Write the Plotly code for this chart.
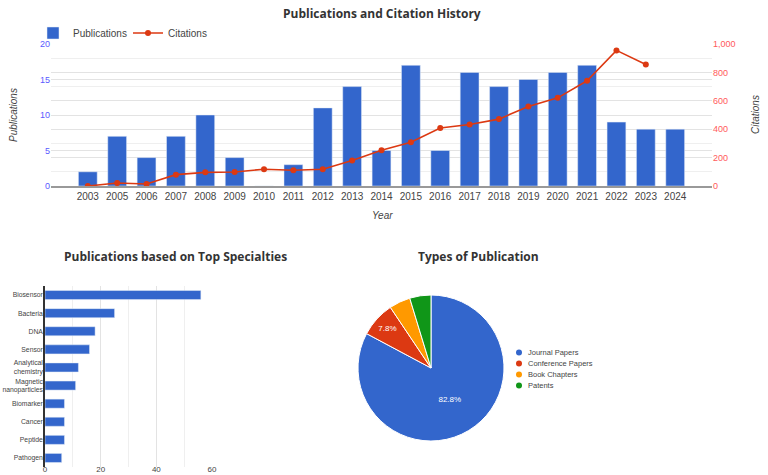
import plotly.graph_objects as go

years = ["2003", "2005", "2006", "2007", "2008", "2009", "2010", "2011", "2012", "2013", "2014",
         "2015", "2016", "2017", "2018", "2019", "2020", "2021", "2022", "2023", "2024"]
publications = [2, 7, 4, 7, 10, 4, 0, 3, 11, 14, 5, 17, 5, 16, 14, 15, 16, 17, 9, 8, 8]
citations = [0, 21, 14, 80, 96, 99, 118, 111, 118, 179, 252, 308, 409, 433, 471, 560, 621, 741, 955, 856, None]

specialties = ["Biosensor", "Bacteria", "DNA", "Sensor", "Analytical<br>chemistry",
               "Magnetic<br>nanoparticles", "Biomarker", "Cancer", "Peptide", "Pathogen"]
specialty_counts = [56, 25, 18, 16, 12, 11, 7, 7, 7, 6]

pub_types = ["Journal Papers", "Conference Papers", "Book Chapters", "Patents"]
pub_type_share = [82.8, 7.8, 4.7, 4.7]
pub_type_text = ["82.8%", "7.8%", "", ""]
pub_type_colors = ["#3366cc", "#dc3912", "#ff9900", "#109618"]

BLUE = "#3366cc"
RED = "#dc3912"
TXT = "#444444"
GRID = "#e3e3e3"
MINOR = "#efefef"
FONT = "Liberation Sans, Arial, sans-serif"
TFONT = "Open Sans, sans-serif"

W, H = 768, 475
def px_x(a, b):
    return [a / W, b / W]
def px_y(top, bottom):
    return [(H - bottom) / H, (H - top) / H]

fig = go.Figure()

fig.add_trace(go.Bar(
    x=years, y=publications, name="Publications", marker_color=BLUE,
    xaxis="x", yaxis="y", legend="legend"))
fig.add_trace(go.Scatter(
    x=years, y=citations, name="Citations", mode="lines+markers",
    line=dict(color=RED, width=1.6), marker=dict(color=RED, size=6),
    xaxis="x", yaxis="y2", legend="legend", connectgaps=False))

fig.add_trace(go.Bar(
    y=specialties, x=specialty_counts, orientation="h", marker_color=BLUE,
    xaxis="x3", yaxis="y3", showlegend=False, width=0.5))

fig.add_trace(go.Pie(
    labels=pub_types, values=pub_type_share, text=pub_type_text,
    textinfo="text", textposition="inside", insidetextfont=dict(color="white", size=8, family=FONT),
    marker=dict(colors=pub_type_colors, line=dict(color="white", width=1)),
    sort=False, direction="clockwise", rotation=0, showlegend=False,
    domain=dict(x=px_x(358, 504), y=px_y(295, 441))))

annotations = [
    dict(text="<b>Publications and Citation History</b>", x=382 / W, y=1 - 13 / H,
         xref="paper", yref="paper", showarrow=False, xanchor="center", yanchor="middle",
         font=dict(family=TFONT, size=12, color="#333333")),
    dict(text="<b>Publications based on Top Specialties</b>", x=175 / W, y=1 - 256 / H,
         xref="paper", yref="paper", showarrow=False, xanchor="center", yanchor="middle",
         font=dict(family=TFONT, size=12, color="#333333")),
    dict(text="<b>Types of Publication</b>", x=478 / W, y=1 - 256 / H,
         xref="paper", yref="paper", showarrow=False, xanchor="center", yanchor="middle",
         font=dict(family=TFONT, size=12, color="#333333")),
    dict(text="<i>Publications</i>", x=14 / W, y=1 - 115 / H, textangle=-90,
         xref="paper", yref="paper", showarrow=False, xanchor="center", yanchor="middle",
         font=dict(size=10, color=TXT)),
    dict(text="<i>Citations</i>", x=756 / W, y=1 - 115 / H, textangle=-90,
         xref="paper", yref="paper", showarrow=False, xanchor="center", yanchor="middle",
         font=dict(size=10, color=TXT)),
    dict(text="<i>Year</i>", x=382 / W, y=1 - 216 / H,
         xref="paper", yref="paper", showarrow=False, xanchor="center", yanchor="middle",
         font=dict(size=10, color=TXT)),
]
shapes = []
# compact legend for the pie, built from the category list
for i, (lab, col) in enumerate(zip(pub_types, pub_type_colors)):
    yc = 352.5 + 11 * i
    shapes.append(dict(type="circle", xref="paper", yref="paper",
                       x0=516 / W, x1=522 / W, y0=1 - (yc + 3) / H, y1=1 - (yc - 3) / H,
                       fillcolor=col, line=dict(width=0)))
    annotations.append(dict(text=lab, x=526 / W, y=1 - yc / H, xref="paper", yref="paper",
                            showarrow=False, xanchor="left", yanchor="middle",
                            font=dict(size=7.5, color=TXT)))

fig.update_layout(
    width=W, height=H, margin=dict(l=0, r=0, t=0, b=0),
    paper_bgcolor="white", plot_bgcolor="white",
    font=dict(family=FONT, color=TXT, size=10),
    bargap=0.36,
    xaxis=dict(domain=px_x(51, 712), anchor="y", type="category", automargin=False,
               showline=True, linecolor="#999999", linewidth=1.5,
               tickfont=dict(size=10, color=TXT), ticks=""),
    yaxis=dict(domain=px_y(44, 186), range=[0, 20], dtick=5, anchor="x", automargin=False,
               gridcolor=GRID, zeroline=False,
               tickfont=dict(size=9, color="#5a5aff")),
    yaxis2=dict(overlaying="y", side="right", range=[0, 1000], dtick=200, anchor="x",
                automargin=False, tickformat=",", gridcolor=GRID, zeroline=False,
                minor=dict(dtick=100, showgrid=True, gridcolor=MINOR),
                tickfont=dict(size=9, color="#ff5a5a")),
    xaxis3=dict(domain=px_x(45, 212), range=[0, 60], dtick=20, anchor="y3", automargin=False,
                gridcolor=GRID, zeroline=False, showline=False,
                minor=dict(dtick=10, showgrid=True, gridcolor=MINOR),
                ticklabelstandoff=-4,
                tickfont=dict(size=8, color=TXT)),
    yaxis3=dict(domain=px_y(286, 467), anchor="x3", autorange="reversed", automargin=False,
                showline=True, linecolor="#333333", linewidth=1.5,
                ticklabelstandoff=-1,
                tickfont=dict(size=6.8, color=TXT), ticks=""),
    legend=dict(orientation="h", x=33 / W, y=1 - 33 / H, xanchor="left", yanchor="middle",
                font=dict(size=10, color=TXT), bgcolor="rgba(0,0,0,0)",
                entrywidth=50, entrywidthmode="pixels"),
    annotations=annotations,
    shapes=shapes,
)

fig.write_html("out.html")
